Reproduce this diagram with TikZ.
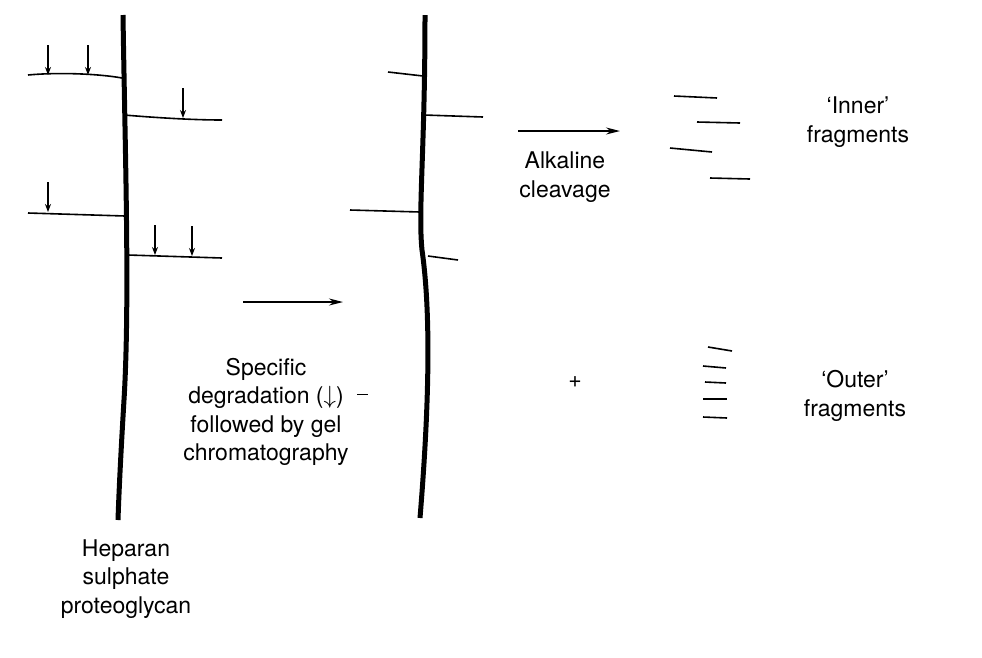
\documentclass[tikz,border=0pt]{standalone}
\usepackage{fontspec}
\setmainfont{TeX Gyre Heros}
\usetikzlibrary{arrows.meta}
\begin{document}
\begin{tikzpicture}[x=1pt,y=-1pt,
  core/.style={line width=5pt},
  chain/.style={line width=1.6pt},
  cut/.style={line width=1.3pt,-{Stealth[length=8pt,width=6pt]}},
  flow/.style={line width=1.6pt,-{Stealth[length=14pt,width=7pt]}},
  lbl/.style={align=center,font=\fontsize{23}{28.5}\selectfont,inner sep=0pt}]
\useasboundingbox (0,0) rectangle (982,657);
% left core
\draw[core] (123,15) .. controls (125,150) and (130,300) .. (124,400) .. controls (121,450) and (119,490) .. (118,520);
\draw[chain] (28,75) .. controls (60,72) and (100,74) .. (122,78);
\draw[chain] (124,115) .. controls (160,118) and (195,120) .. (222,120);
\draw[chain] (28,213) -- (125,216);
\draw[chain] (128,255) -- (222,258);
\foreach \x/\y in {48/75,88/75,183/118,48/212,155/255,192/256}
  \draw[cut] (\x,\y-30) coordinate (t) -- (\x,\y);
% middle core
\draw[core] (425,15) .. controls (425,150) and (418,210) .. (422,250) .. controls (432,320) and (428,420) .. (420,518);
\draw[chain] (388,72) -- (423,76);
\draw[chain] (424,115) -- (483,117);
\draw[chain] (350,210) -- (420,212);
\draw[chain] (428,256) -- (458,260);
% arrows
\coordinate (a1) at (243,302); \coordinate (a2) at (343,302);
\draw[flow] (a1) -- (a2);
\coordinate (b1) at (518,131); \coordinate (b2) at (620,131);
\draw[flow] (b1) -- (b2);
% inner fragments
\draw[chain] (674,96) -- (717,98);
\draw[chain] (697,122) -- (740,123);
\draw[chain] (670,148) -- (712,152);
\draw[chain] (710,178) -- (750,179);
% outer fragments
\draw[chain] (708,347) -- (732,351);
\draw[chain] (703,366) -- (726,368);
\draw[chain] (705,382) -- (726,383);
\draw[chain] (703,399) -- (727,399);
\draw[chain] (703,417) -- (727,418);
\draw[line width=0.8pt] (357,394) -- (368,394);
% texts
\node[lbl] (plus) at (575,382) {+};
\node[lbl] (spec) at (266,412) {Specific\\degradation ($\downarrow$)\\followed by gel\\chromatography};
\node[lbl] (hep) at (126,579) {Heparan\\sulphate\\proteoglycan};
\node[lbl] (alk) at (565,177) {Alkaline\\cleavage};
\node[lbl] (inn) at (858,122) {`Inner'\\fragments};
\node[lbl] (out) at (855,396) {`Outer'\\fragments};
\end{tikzpicture}
\end{document}
